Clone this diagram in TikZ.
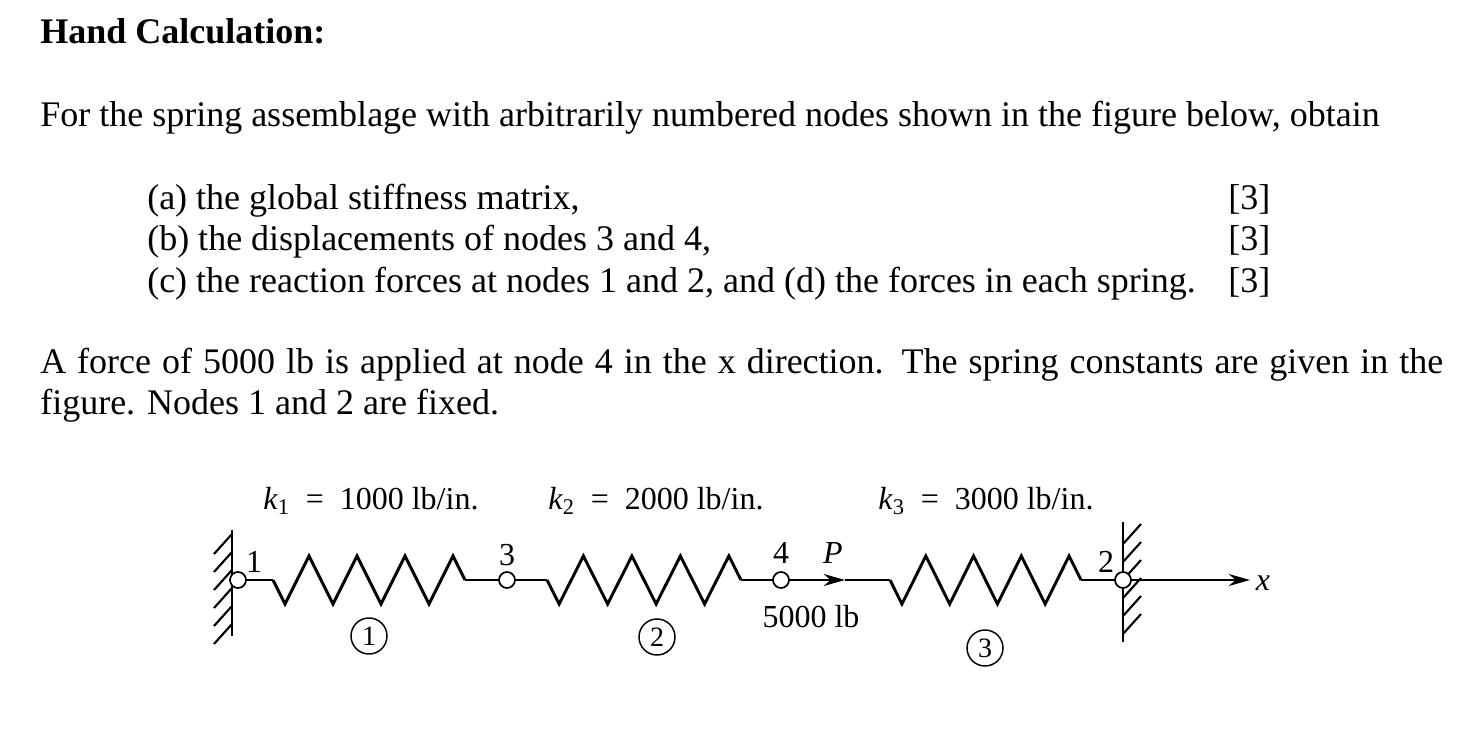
\documentclass[tikz,border=0pt]{standalone}
\usepackage{fontspec}
\setmainfont{Liberation Serif}
\usetikzlibrary{arrows.meta,calc}
\tikzset{
  txt/.style={anchor=base west,inner sep=0pt,font=\fontsize{27}{31}\selectfont},
  fig/.style={inner sep=0pt,font=\fontsize{24}{28}\selectfont},
  pin/.style={circle,draw,fill=white,line width=1.3pt,minimum size=12pt,inner sep=0pt},
  num/.style={circle,draw,line width=1.1pt,minimum size=27pt,inner sep=0pt,font=\fontsize{21}{24}\selectfont},
  wire/.style={line width=2.2pt,line join=miter},
  wall/.style={line width=2pt},
  hatch/.style={line width=1.6pt}
}
\newcommand{\myspring}[2]{%
  \draw[wire] (#1) -- ++(0,0)
  \foreach \j in {0,...,7}{ -- ($(#1)!{(2*\j+1)/16}!(#2)+(0,{ifthenelse(mod(\j,2)==0,24,-24)})$)} -- (#2);}
\begin{document}
\begin{tikzpicture}[x=0.75pt,y=-0.75pt]
\useasboundingbox (0,0) rectangle (1480,734);
\node[txt,font=\bfseries\fontsize{27}{31}\selectfont] (h) at (40,44) {Hand Calculation:};
\node[txt] (l1) at (40,127) {For the spring assemblage with arbitrarily numbered nodes shown in the figure below, obtain};
\node[txt] (a) at (147,210) {(a) the global stiffness matrix,};
\node[txt] (b) at (147,251) {(b) the displacements of nodes 3 and 4,};
\node[txt] (c) at (147,292) {(c) the reaction forces at nodes 1 and 2, and (d) the forces in each spring.};
\node[txt] (ra) at (1228,210) {[3]};
\node[txt] (rb) at (1228,251) {[3]};
\node[txt] (rc) at (1228,292) {[3]};
\node[txt,anchor=north west,text width=1403*0.75pt,align=justify] (p) at (40,348)
 {A force of 5000 lb is applied at node 4 in the x direction. The spring constants are given in the figure. Nodes 1 and 2 are fixed.};

% walls
\draw[wall] (232,530) -- (232,636);
\foreach \y in {534,552,...,624} \draw[hatch] (232,\y) -- (214,\y+20);
\draw[wall] (1123,522) -- (1123,642);
\foreach \y in {524,542,...,614} \draw[hatch] (1123,\y+20) -- (1141,\y);

\coordinate (s1a) at (273,580); \coordinate (s1b) at (465,580);
\coordinate (s2a) at (547,580); \coordinate (s2b) at (741,580);
\coordinate (s3a) at (890,580); \coordinate (s3b) at (1081,580);
\coordinate (xe) at (1250,580);
\coordinate (n1) at (238,580); \coordinate (n3) at (507,580);
\coordinate (n4) at (781,580); \coordinate (n2) at (1123,580);
\draw[wire] (n1) -- (s1a); \myspring{s1a}{s1b}
\draw[wire] (s1b) -- (n3) -- (s2a); \myspring{s2a}{s2b}
\draw[wire] (s2b) -- (n4);
\coordinate (pt) at (845,580);
\draw[line width=1.8pt,-{Stealth[length=16pt,width=9pt]}] (n4) -- (pt);
\draw[wire] (pt) -- (s3a); \myspring{s3a}{s3b}
\draw[wire] (s3b) -- (n2);
\draw[line width=1.8pt,-{Stealth[length=16pt,width=9pt]}] (n2) -- (xe);
\node[pin] (c1) at (n1) {};
\node[pin] (c3) at (n3) {};
\node[pin] (c4) at (n4) {};
\node[pin] (c2) at (n2) {};

\node[fig] (l1n) at (254,562) {1};
\node[fig] (l3n) at (507,555) {3};
\node[fig] (l4n) at (781,553) {4};
\node[fig] (lP) at (833,553) {\textit{P}};
\node[fig] (l2n) at (1106,562) {2};
\node[fig] (f) at (811,617) {5000 lb};
\node[fig] (x) at (1263,583) {\textit{x}};
\node[num] (e1) at (369,636) {1};
\node[num] (e2) at (657,637) {2};
\node[num] (e3) at (985,648) {3};
\node[fig,anchor=west] (k1) at (263,501) {\textit{k}\textsubscript{1}\ \ =\ \ 1000 lb/in.};
\node[fig,anchor=west] (k2) at (548,501) {\textit{k}\textsubscript{2}\ \ =\ \ 2000 lb/in.};
\node[fig,anchor=west] (k3) at (878,501) {\textit{k}\textsubscript{3}\ \ =\ \ 3000 lb/in.};
\end{tikzpicture}
\end{document}
